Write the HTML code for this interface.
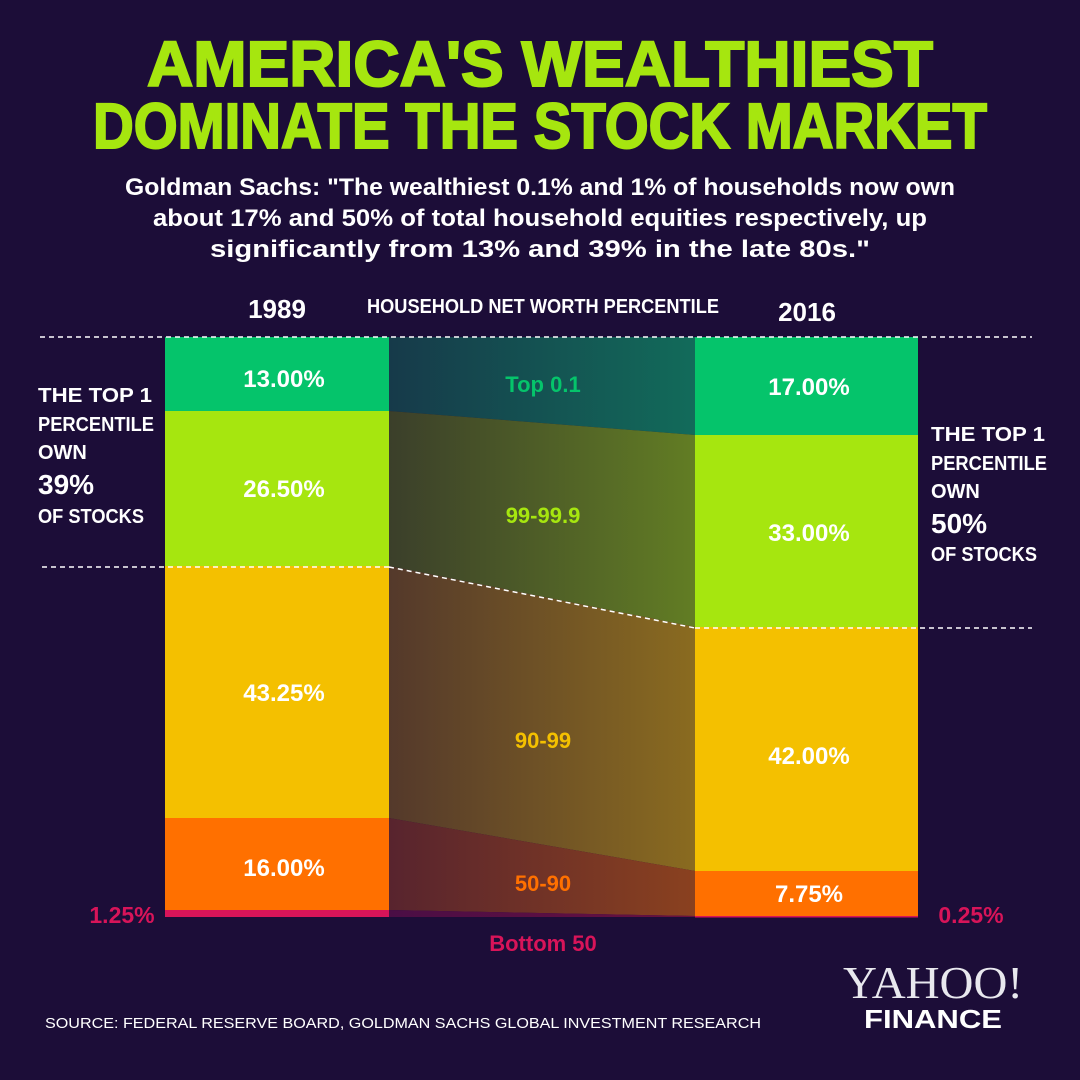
<!DOCTYPE html>
<html><head><meta charset="utf-8"><style>
html,body{margin:0;padding:0;background:#1c0d38;}
svg{display:block;}
</style></head><body>
<svg width="1080" height="1080" viewBox="0 0 1080 1080" xmlns="http://www.w3.org/2000/svg" font-family="Liberation Sans, sans-serif">
<defs>
<linearGradient id="g1" x1="0" x2="1"><stop offset="0" stop-color="#163a4a"/><stop offset="1" stop-color="#126b5a"/></linearGradient>
<linearGradient id="g2" x1="0" x2="1"><stop offset="0" stop-color="#3b3f2a"/><stop offset="1" stop-color="#627d24"/></linearGradient>
<linearGradient id="g3" x1="0" x2="1"><stop offset="0" stop-color="#54392b"/><stop offset="1" stop-color="#8a6b20"/></linearGradient>
<linearGradient id="g4" x1="0" x2="1"><stop offset="0" stop-color="#58242e"/><stop offset="1" stop-color="#8a411f"/></linearGradient>
<linearGradient id="g5" x1="0" x2="1"><stop offset="0" stop-color="#4a0e45"/><stop offset="1" stop-color="#6a1040"/></linearGradient>
</defs>
<rect width="1080" height="1080" fill="#1c0d38"/>
<g fill="#a6e60f" stroke="#a6e60f" stroke-width="2" font-weight="bold" font-size="64" text-anchor="middle">
<text x="540" y="86" textLength="786" lengthAdjust="spacingAndGlyphs">AMERICA'S WEALTHIEST</text>
<text x="540" y="148" textLength="894" lengthAdjust="spacingAndGlyphs">DOMINATE THE STOCK MARKET</text>
</g>
<g fill="#fff" font-weight="bold" font-size="24" text-anchor="middle">
<text x="540" y="195" textLength="830" lengthAdjust="spacingAndGlyphs">Goldman Sachs: "The wealthiest 0.1% and 1% of households now own</text>
<text x="540" y="226" textLength="774" lengthAdjust="spacingAndGlyphs">about 17% and 50% of total household equities respectively, up</text>
<text x="540" y="257" textLength="660" lengthAdjust="spacingAndGlyphs">significantly from 13% and 39% in the late 80s."</text>
</g>
<g fill="#fff" font-weight="bold" text-anchor="middle">
<text x="277" y="318" font-size="26">1989</text>
<text x="807" y="321" font-size="26">2016</text>
<text x="543" y="313" font-size="20" textLength="352" lengthAdjust="spacingAndGlyphs">HOUSEHOLD NET WORTH PERCENTILE</text>
</g>
<polygon points="389,337 695,337 695,435 389,411" fill="url(#g1)"/>
<polygon points="389,411 695,435 695,627 389,566" fill="url(#g2)"/>
<polygon points="389,566 695,627 695,871 389,818" fill="url(#g3)"/>
<polygon points="389,818 695,871 695,916 389,910" fill="url(#g4)"/>
<polygon points="389,910 695,916 695,917 389,917" fill="url(#g5)"/>
<rect x="165" y="337" width="224" height="74" fill="#05c46b"/>
<rect x="165" y="411" width="224" height="155" fill="#a6e60f"/>
<rect x="165" y="566" width="224" height="252" fill="#f4c000"/>
<rect x="165" y="818" width="224" height="92" fill="#ff7000"/>
<rect x="165" y="910" width="224" height="7" fill="#d81459"/>
<rect x="695" y="337" width="223" height="98" fill="#05c46b"/>
<rect x="695" y="435" width="223" height="192" fill="#a6e60f"/>
<rect x="695" y="627" width="223" height="244" fill="#f4c000"/>
<rect x="695" y="871" width="223" height="45" fill="#ff7000"/>
<rect x="695" y="916" width="223" height="1.5" fill="#d81459"/>
<g stroke="#fff" stroke-width="1.5" stroke-dasharray="5,4" fill="none">
<line x1="40" y1="337" x2="1032" y2="337"/>
<line x1="42" y1="567" x2="389" y2="567"/>
<line x1="389" y1="567" x2="695" y2="628"/>
<line x1="695" y1="628" x2="1032" y2="628"/>
</g>
<g fill="#fff" font-weight="bold" font-size="24" text-anchor="middle">
<text x="284" y="387">13.00%</text>
<text x="284" y="497">26.50%</text>
<text x="284" y="701">43.25%</text>
<text x="284" y="876">16.00%</text>
<text x="809" y="395">17.00%</text>
<text x="809" y="541">33.00%</text>
<text x="809" y="764">42.00%</text>
<text x="809" y="902">7.75%</text>
</g>
<g font-weight="bold" font-size="22" text-anchor="middle">
<text x="543" y="392" fill="#05c46b">Top 0.1</text>
<text x="543" y="523" fill="#a6e60f">99-99.9</text>
<text x="543" y="748" fill="#f4c000">90-99</text>
<text x="543" y="891" fill="#ff7000">50-90</text>
<text x="543" y="951" fill="#d81459">Bottom 50</text>
<text x="122" y="923" fill="#d81459" font-size="23">1.25%</text>
<text x="971" y="923" fill="#d81459" font-size="23">0.25%</text>
</g>
<g fill="#fff" font-weight="bold" font-size="20">
<text x="38" y="402" textLength="114" lengthAdjust="spacingAndGlyphs">THE TOP 1</text>
<text x="38" y="431" textLength="116" lengthAdjust="spacingAndGlyphs">PERCENTILE</text>
<text x="38" y="459">OWN</text>
<text x="38" y="494" font-size="28">39%</text>
<text x="38" y="523" textLength="106" lengthAdjust="spacingAndGlyphs">OF STOCKS</text>
<text x="931" y="441" textLength="114" lengthAdjust="spacingAndGlyphs">THE TOP 1</text>
<text x="931" y="470" textLength="116" lengthAdjust="spacingAndGlyphs">PERCENTILE</text>
<text x="931" y="498">OWN</text>
<text x="931" y="533" font-size="28">50%</text>
<text x="931" y="561" textLength="106" lengthAdjust="spacingAndGlyphs">OF STOCKS</text>
</g>
<text x="45" y="1028" fill="#fff" font-size="15" textLength="716" lengthAdjust="spacingAndGlyphs">SOURCE:  FEDERAL RESERVE BOARD, GOLDMAN SACHS GLOBAL INVESTMENT RESEARCH</text>
<text x="843" y="998" fill="#e8e8ee" font-family="Liberation Serif, serif" font-size="46" textLength="180" lengthAdjust="spacingAndGlyphs">YAHOO!</text>
<text x="864" y="1028" fill="#fff" font-weight="bold" font-size="26" textLength="138" lengthAdjust="spacingAndGlyphs">FINANCE</text>
</svg>
</body></html>
